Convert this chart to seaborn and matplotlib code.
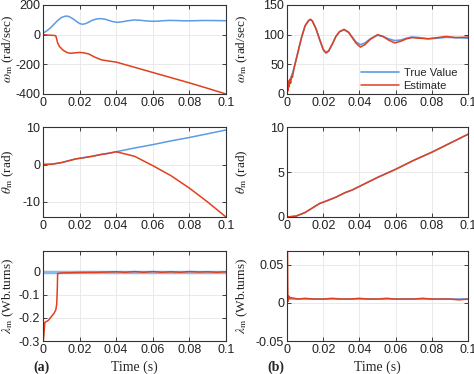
import pandas as pd
import seaborn as sns
import matplotlib.pyplot as plt

# colours
blue = "#5b9be6"
red = "#e0401e"

# speed, true value (rad/sec)
t_w = [0, 0.002, 0.004, 0.006, 0.008, 0.010, 0.012, 0.013, 0.014, 0.016, 0.018,
       0.020, 0.0215, 0.023, 0.025, 0.027, 0.029, 0.0315, 0.034, 0.036, 0.038,
       0.0405, 0.043, 0.046, 0.050, 0.053, 0.056, 0.0595, 0.063, 0.066, 0.069,
       0.073, 0.078, 0.083, 0.088, 0.093, 0.100]
w_true = [10, 25, 45, 70, 95, 115, 124, 125, 123, 110, 92,
          75, 70, 73, 84, 97, 105, 108, 104, 96, 88,
          83, 86, 93, 99, 97, 93, 90, 91, 94, 96,
          95, 93, 94, 95.5, 95, 94]

# speed estimate, case (a)
t_wa = [0, 0.002, 0.004, 0.006, 0.007, 0.0075, 0.008, 0.009, 0.011, 0.013, 0.015,
        0.018, 0.020, 0.022, 0.025, 0.028, 0.032, 0.036, 0.040, 0.050, 0.060,
        0.070, 0.080, 0.090, 0.100]
w_est_a = [0, -2, -4, -5, -8, -30, -55, -80, -105, -120, -126,
           -122, -120, -122, -130, -150, -170, -178, -185, -220, -255,
           -290, -325, -362, -400]

# speed estimate, case (b)
t_wb = [0, 0.0004, 0.0008, 0.0012, 0.0016, 0.002, 0.0025, 0.003, 0.004, 0.006, 0.008,
        0.010, 0.012, 0.013, 0.014, 0.016, 0.018, 0.020, 0.0215, 0.023, 0.025,
        0.027, 0.029, 0.0315, 0.034, 0.036, 0.038, 0.0405, 0.043, 0.046, 0.050,
        0.053, 0.056, 0.0595, 0.063, 0.066, 0.069, 0.073, 0.078, 0.083, 0.088,
        0.093, 0.100]
w_est_b = [30, 5, 22, 12, 25, 18, 30, 28, 45, 70, 95,
           115, 124, 126, 123, 110, 92, 75, 69, 72, 84,
           97, 105, 109, 104, 95, 86, 79, 83, 92, 100,
           97, 91, 86, 89, 93, 95, 94, 93, 95, 97,
           95, 96]

# position (rad)
t_th = [0, 0.005, 0.010, 0.014, 0.018, 0.022, 0.027, 0.032, 0.036, 0.040,
        0.050, 0.060, 0.070, 0.080, 0.090, 0.100]
th_true = [0, 0.1, 0.5, 1.0, 1.5, 1.8, 2.2, 2.7, 3.0, 3.4,
           4.4, 5.3, 6.3, 7.2, 8.2, 9.2]
th_est_a = [0, 0.1, 0.5, 1.0, 1.5, 1.8, 2.2, 2.7, 3.0, 3.4,
            2.2, -0.3, -3.0, -6.3, -10.0, -14.0]
th_est_b = th_true

# flux linkage (Wb.turns)
t_lam = [0, 0.0002, 0.001, 0.002, 0.003, 0.004, 0.005, 0.006, 0.007, 0.0075, 0.0078, 0.008,
         0.009, 0.010, 0.015, 0.020, 0.030, 0.040, 0.045, 0.050, 0.055, 0.060,
         0.065, 0.070, 0.075, 0.080, 0.085, 0.090, 0.095, 0.100]
lam_true_a = [0] * len(t_lam)
lam_est_a = [0.0, -0.30, -0.22, -0.215, -0.21, -0.20, -0.19, -0.18, -0.165, -0.14, -0.08, -0.008,
             -0.006, -0.005, -0.004, -0.003, -0.002, 0.0, -0.002, 0.001, -0.002, 0.001,
             -0.002, 0.0, -0.002, 0.001, -0.001, 0.0, -0.002, 0.0]
t_lam_b = [0, 0.0002, 0.0005, 0.001, 0.0015, 0.002, 0.004, 0.006, 0.010, 0.015, 0.020,
           0.025, 0.030, 0.035, 0.040, 0.045, 0.050, 0.055, 0.060, 0.065, 0.070,
           0.075, 0.080, 0.085, 0.090, 0.095, 0.100]
lam_est_b = [-0.05, 0.068, 0.002, 0.009, 0.006, 0.007, 0.006, 0.005, 0.006, 0.005, 0.005,
             0.006, 0.005, 0.005, 0.006, 0.005, 0.005, 0.006, 0.005, 0.005, 0.005,
             0.006, 0.005, 0.005, 0.005, 0.004, 0.005]
lam_true_b = [0.005] * len(t_lam_b)

xticks = [0, 0.02, 0.04, 0.06, 0.08, 0.1]
xticklabels = ["0", "0.02", "0.04", "0.06", "0.08", "0.1"]

sns.set_style("whitegrid")
plt.rcParams['font.family'] = ['Liberation Sans', 'DejaVu Sans']
plt.rcParams['mathtext.fontset'] = 'stix'
plt.rcParams['axes.unicode_minus'] = False

fig = plt.figure(figsize=(4.74, 3.74), dpi=100)

cols = [0.0907, 0.6055]
widths = [0.386, 0.382]
rows = [0.7487, 0.4198, 0.0882]
heights = [0.238, 0.2406, 0.2406]

axes = [[fig.add_axes([cols[c], rows[r], widths[c], heights[r]]) for c in range(2)]
        for r in range(3)]

serif = ['Liberation Serif', 'DejaVu Serif']


def line(ax, x, y, color, lw=1.1):
    sns.lineplot(x=x, y=y, ax=ax, color=color, linewidth=lw, estimator=None, sort=False)


# row 1: speed
line(axes[0][0], t_w, w_true, blue)
line(axes[0][0], t_wa, w_est_a, red)
line(axes[0][1], t_w, w_true, blue, 1.2)
line(axes[0][1], t_wb, w_est_b, red)
axes[0][0].set_ylim(-400, 200)
axes[0][0].set_yticks([-400, -200, 0, 200])
axes[0][1].set_ylim(0, 150)
axes[0][1].set_yticks([0, 50, 100, 150])

# row 2: position
line(axes[1][0], t_th, th_true, blue)
line(axes[1][0], t_th, th_est_a, red)
line(axes[1][1], t_th, th_true, blue)
line(axes[1][1], t_th, th_est_b, red)
axes[1][0].set_ylim(-14, 10)
axes[1][0].set_yticks([-10, 0, 10])
axes[1][1].set_ylim(0, 10)
axes[1][1].set_yticks([0, 5, 10])

# row 3: flux
line(axes[2][0], t_lam, lam_true_a, "#8ab8f0", 2.5)
line(axes[2][0], t_lam, lam_est_a, red)
line(axes[2][1], t_lam_b, lam_true_b, blue)
line(axes[2][1], t_lam_b, lam_est_b, red)
axes[2][0].set_ylim(-0.3, 0.09)
axes[2][0].set_yticks([-0.3, -0.2, -0.1, 0])
axes[2][0].set_yticklabels(["-0.3", "-0.2", "-0.1", "0"])
axes[2][1].set_ylim(-0.05, 0.068)
axes[2][1].set_yticks([-0.05, 0, 0.05])
axes[2][1].set_yticklabels(["-0.05", "0", "0.05"])

ylabels = [r'$\omega_{\rm m}$ (rad/sec)', r'$\theta_{\rm m}$ (rad)', r'$\lambda_{\rm m}$ (Wb.turns)']

for r in range(3):
    for c in range(2):
        ax = axes[r][c]
        ax.set_xlim(0, 0.1)
        ax.set_xticks(xticks)
        ax.set_xticklabels(xticklabels)
        ax.grid(True, color="#e6e6e6", linewidth=0.6)
        ax.set_facecolor("white")
        for s in ax.spines.values():
            s.set_color("#333333")
            s.set_linewidth(0.8)
            s.set_visible(True)
        ax.tick_params(direction="in", length=3, width=0.6, colors="#222222",
                       labelsize=9, pad=2, top=True, right=True,
                       bottom=True, left=True)
        ax.set_ylabel(ylabels[r], fontsize=9.5, family=serif, color="#222222")
        ax.yaxis.set_label_coords(-0.145 if c == 0 else -0.205, 0.5)
        ax.set_xlabel("")

# legend in the top right panel
h = axes[0][1].get_lines()
axes[0][1].legend(h[:2], ["True Value", "Estimate"], loc="lower right", frameon=False,
                  fontsize=8, handlelength=3.4, handletextpad=0.4, borderaxespad=0.1,
                  labelspacing=0.3, bbox_to_anchor=(0.97, -0.03))

fig.text(0.087, 0.019, "(a)", family=serif, fontweight="bold", fontsize=10,
         ha="center", va="center")
fig.text(0.582, 0.019, "(b)", family=serif, fontweight="bold", fontsize=10,
         ha="center", va="center")
fig.text(0.284, 0.019, "Time (s)", family=serif, fontsize=10, ha="center", va="center")
fig.text(0.797, 0.019, "Time (s)", family=serif, fontsize=10, ha="center", va="center")

fig.savefig("out.png", dpi=100)
